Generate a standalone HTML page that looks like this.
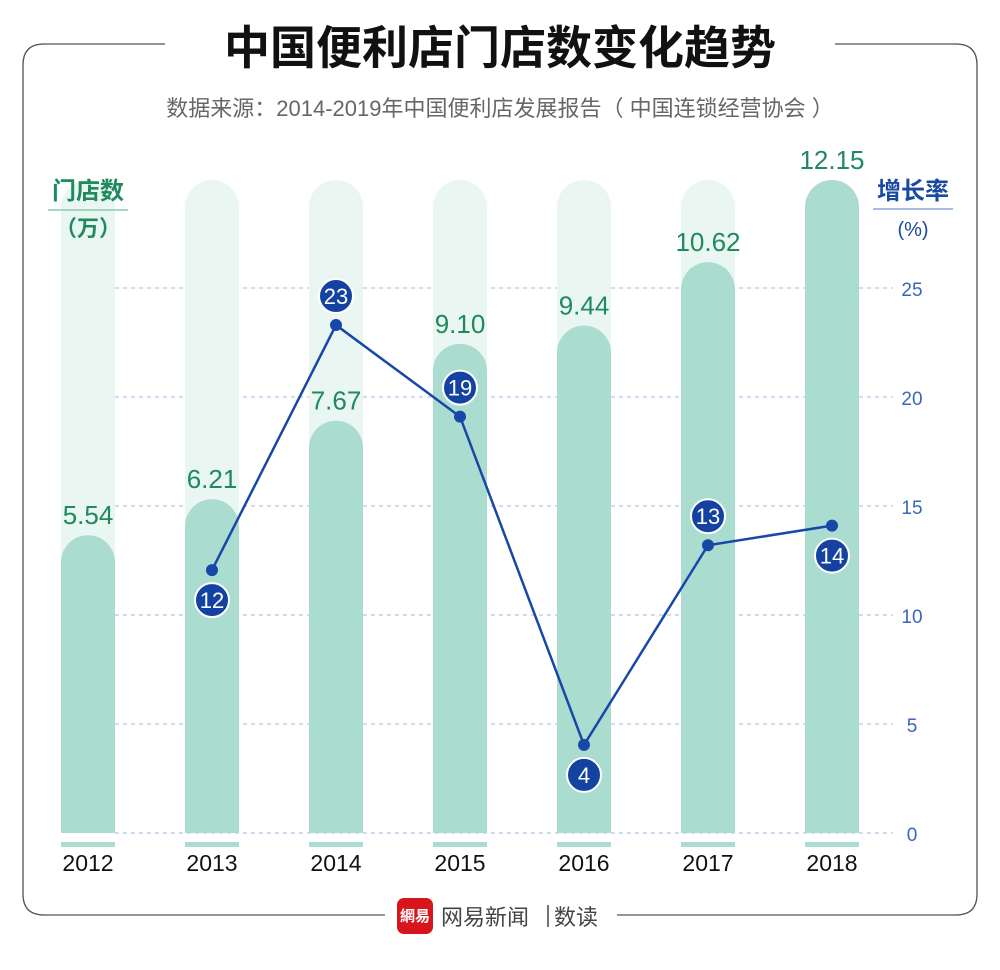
<!DOCTYPE html>
<html><head><meta charset="utf-8"><style>
body{margin:0;background:#fff;}
svg text{font-family:"Liberation Sans","Noto Sans CJK SC",sans-serif;}
</style></head><body>
<svg id="c" width="1000" height="965" viewBox="0 0 1000 965" xmlns="http://www.w3.org/2000/svg">
<path d="M165 44 H44 Q23 44 23 65 V894 Q23 915 44 915 H385 M617 915 H956 Q977 915 977 894 V65 Q977 44 956 44 H835" fill="none" stroke="#555" stroke-width="1.3"/>
<text x="500" y="64" text-anchor="middle" font-size="46" font-weight="bold" fill="#111">中国便利店门店数变化趋势</text>
<text x="500" y="116" text-anchor="middle" font-size="22" fill="#666">数据来源：2014-2019年中国便利店发展报告（ 中国连锁经营协会 ）</text>
<g id="grid"></g><g id="bars"></g><g id="line"></g>
<text x="88" y="199" text-anchor="middle" font-size="24" font-weight="bold" fill="#1e8a5e">门店数</text>
<line x1="48" y1="210" x2="128" y2="210" stroke="#8cc9ae" stroke-width="1.5"/>
<text x="88" y="236" text-anchor="middle" font-size="22" font-weight="bold" fill="#1e8a5e">（万）</text>
<text x="913" y="199" text-anchor="middle" font-size="24" font-weight="bold" fill="#1a4aa0">增长率</text>
<line x1="873" y1="209" x2="953" y2="209" stroke="#8aa6d6" stroke-width="1.5"/>
<text x="913" y="236" text-anchor="middle" font-size="20" fill="#1a4aa0">(%)</text>
<g>
<rect x="397" y="898" width="36" height="36" rx="7" fill="#d8141c"/>
<text x="415" y="921" text-anchor="middle" font-size="15" fill="#fff" font-weight="bold">網易</text>
<text x="441" y="925" font-size="22" fill="#444">网易新闻</text>
<line x1="548" y1="905" x2="548" y2="927" stroke="#444" stroke-width="1.5"/>
<text x="554" y="925" font-size="22" fill="#444">数读</text>
</g>
</svg>
<script>
const years=['2012','2013','2014','2015','2016','2017','2018'];
const stores=[5.54,6.21,7.67,9.10,9.44,10.62,12.15];
const growth=[null,12.06,23.3,19.1,4.04,13.2,14.1];
const growthLabels=['','12','23','19','4','13','14'];
const labelAbove=[false,false,true,true,false,true,false];
const rateTicks=[0,5,10,15,20,25];
const NS='http://www.w3.org/2000/svg';
const x=i=>88+i*124;
const yS=v=>833-v*53.75;
const yR=v=>833-v*21.8;
function mk(t,a,p){const e=document.createElementNS(NS,t);for(const k in a)e.setAttribute(k,a[k]);p.appendChild(e);return e;}
const grid=document.getElementById('grid'),bars=document.getElementById('bars'),line=document.getElementById('line');
rateTicks.forEach(v=>{
 const l=mk('line',{x1:115,x2:893,y1:yR(v),y2:yR(v),stroke:'#b3c6ea','stroke-width':1.2,'stroke-dasharray':'4 4'},grid);
 
 
 const t=mk('text',{x:912,y:yR(v)+8,'text-anchor':'middle','font-size':19,fill:'#3a66b8'},grid);t.textContent=v;
 
 
});
years.forEach((yr,i)=>{
 const bx=x(i)-27,top=yS(stores[6]);
 if(i<6){const bg=mk('path',{d:`M${bx} 833 V${top+27} A27 27 0 0 1 ${bx+54} ${top+27} V833 Z`,fill:'#eaf6f2'},bars);
 
 }
 const ty=yS(stores[i]);
 const b=mk('path',{d:`M${bx} 833 V${ty+27} A27 27 0 0 1 ${bx+54} ${ty+27} V833 Z`,fill:'#abdcd0'},bars);
 
 
 const s=mk('rect',{x:bx,y:842,width:54,height:5,fill:'#abdcd0'},bars);
 
 
 const v=mk('text',{x:x(i),y:ty-11,'text-anchor':'middle','font-size':26,fill:'#1e8a5e'},bars);v.textContent=stores[i].toFixed(2);
 
 
 const yl=mk('text',{x:x(i),y:871,'text-anchor':'middle','font-size':23,fill:'#111'},bars);yl.textContent=yr;
 
 
});
let pts=[];growth.forEach((g,i)=>{if(g!==null)pts.push(x(i)+','+yR(g));});
const pl=mk('polyline',{points:pts.join(' '),fill:'none',stroke:'#1748a8','stroke-width':2.5},line);


growth.forEach((g,i)=>{if(g===null)return;
 const d=mk('circle',{cx:x(i),cy:yR(g),r:6,fill:'#1748a8'},line);
 
 
 const cy=yR(g)+(labelAbove[i]?-29:30);
 const c=mk('circle',{cx:x(i),cy:cy,r:17,fill:'#1442a0',stroke:'#fff','stroke-width':2},line);
 
 
 const t=mk('text',{x:x(i),y:cy+8,'text-anchor':'middle','font-size':22,fill:'#fff'},line);t.textContent=growthLabels[i];
 
 
});
</script>
</body></html>
